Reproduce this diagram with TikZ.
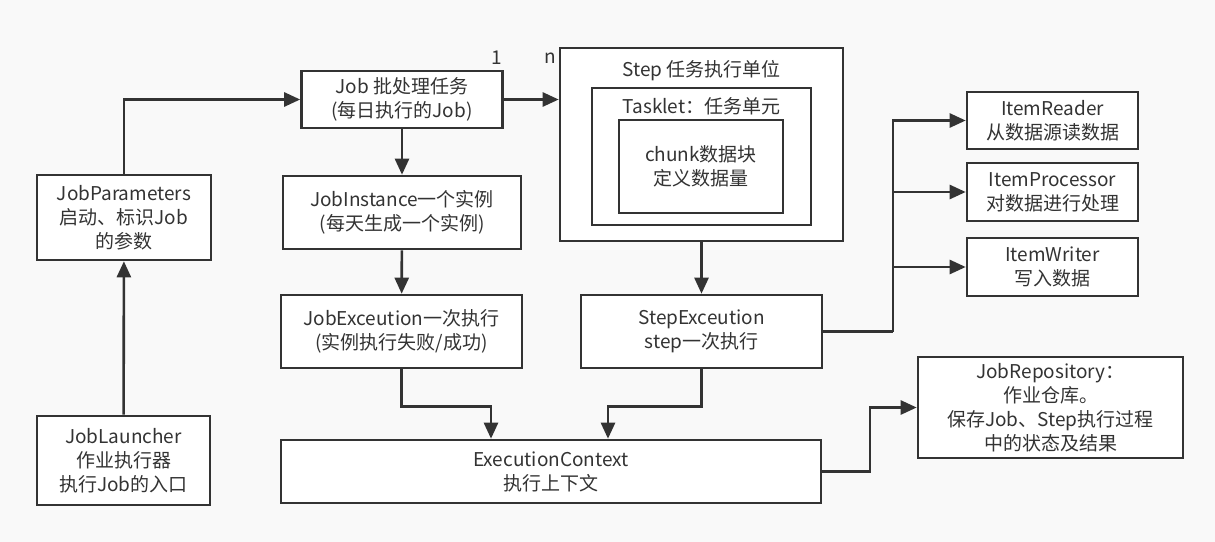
\documentclass[tikz,border=0pt]{standalone}
\usepackage{fontspec}
\setmainfont{Noto Sans CJK SC}
\usepackage{tikz}
\usetikzlibrary{arrows.meta}
\definecolor{linegray}{HTML}{333333}
\definecolor{bggray}{HTML}{F9F9F9}

\tikzset{
  box/.style={draw=linegray,line width=2.6bp,fill=white,align=center,text=linegray,inner sep=0pt,font=\fontsize{19bp}{24bp}\selectfont},
  plain/.style={text=linegray,inner sep=0pt,font=\fontsize{19bp}{24bp}\selectfont},
  link/.style={draw=linegray,line width=2.6bp,-{Triangle[length=16bp,width=14bp]}},
  wire/.style={draw=linegray,line width=2.6bp},
}

\begin{document}
\begin{tikzpicture}

\fill[bggray] (0bp,0bp) rectangle (1215bp,-542bp);

\node (Launcher) at (123.5bp,-460.5bp)[box,minimum width=173bp,minimum height=89bp] {JobLauncher\\作业执行器\\执行Job的入口};
\node (Params) at (124bp,-217.5bp)[box,minimum width=174bp,minimum height=85bp] {JobParameters\\启动、标识Job\\的参数};
\node (Job) at (402bp,-99.5bp)[box,minimum width=201bp,minimum height=57bp] {Job 批处理任务\\(每日执行的Job)};
\node (Instance) at (402bp,-212.5bp)[box,minimum width=238bp,minimum height=73bp] {JobInstance一个实例\\(每天生成一个实例)};
\node (JobExec) at (401.5bp,-331.5bp)[box,minimum width=241bp,minimum height=73bp] {JobExceution一次执行\\(实例执行失败/成功)};
\node (Context) at (551bp,-471.5bp)[box,minimum width=540bp,minimum height=63bp] {ExecutionContext\\执行上下文};

\node (Step) at (701.5bp,-144.5bp)[box,minimum width=283bp,minimum height=193bp] {};
\node (StepText) at (701.5bp,-71bp)[plain] {Step 任务执行单位};
\node (Tasklet) at (701.5bp,-156.5bp)[box,minimum width=219bp,minimum height=137bp] {};
\node (TaskletText) at (701.5bp,-106bp)[plain] {Tasklet：任务单元};
\node (Chunk) at (701bp,-166.5bp)[box,minimum width=164bp,minimum height=93bp] {chunk数据块\\定义数据量};
\node (StepExec) at (701.5bp,-331.5bp)[box,minimum width=241bp,minimum height=73bp] {StepExceution\\step一次执行};

\node (Reader) at (1052.5bp,-120.5bp)[box,minimum width=171bp,minimum height=57bp] {ItemReader\\从数据源读数据};
\node (Processor) at (1052.5bp,-192bp)[box,minimum width=171bp,minimum height=58bp] {ItemProcessor\\对数据进行处理};
\node (Writer) at (1052.5bp,-267bp)[box,minimum width=171bp,minimum height=58bp] {ItemWriter\\写入数据};
\node (Repo) at (1050.5bp,-407.5bp)[box,minimum width=265bp,minimum height=101bp] {JobRepository：\\作业仓库。\\保存Job、Step执行过程\\中的状态及结果};

\node (one) at (497bp,-58bp)[plain] {1};
\node (many) at (550bp,-58bp)[plain] {n};

\coordinate (bus) at (893bp,-331.5bp);
\coordinate (ctxout) at (870bp,-471.5bp);

\draw [link] (Launcher) to (Params);
\draw [link] (Params.north) |- (Job.west);
\draw [link] (Job.east) to (Job.east -| Step.west);
\draw [link] (Job) to (Instance);
\draw [link] (Instance) to (JobExec);
\draw [link] (JobExec.south) -- ++(0bp,-37bp) -| ([xshift=-60bp]Context.north);
\draw [link] (Step) to (StepExec);
\draw [link] (StepExec.south) -- ++(0bp,-37bp) -| ([xshift=57bp]Context.north);
\draw [wire] (StepExec.east) -- (bus);
\draw [link] (bus) |- (Reader.west);
\draw [link] (bus) |- (Processor.west);
\draw [link] (bus) |- (Writer.west);
\draw [link] (Context.east) -- (ctxout) |- (Repo.west);
\end{tikzpicture}
\end{document}
